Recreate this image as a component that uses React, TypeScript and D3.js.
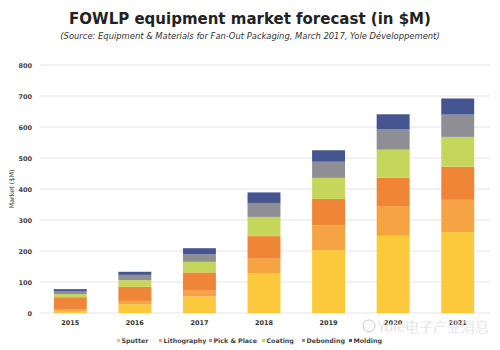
import React from 'react';
import { scaleBand, scaleLinear, stack } from 'd3';

const years = ['2015', '2016', '2017', '2018', '2019', '2020', '2021'];
const keys = ['Sputter', 'Lithography', 'Pick & Place', 'Coating', 'Debonding', 'Molding'];
const sputter = [5, 28, 53, 129, 203, 249, 261];
const lithography = [7, 11, 19, 48, 79, 96, 104];
const pickPlace = [39, 46, 59, 71, 86, 91, 107];
const coating = [10, 21, 34, 62, 68, 91, 96];
const debonding = [10, 17, 25, 45, 52, 65, 72];
const molding = [6, 10, 19, 34, 37, 49, 52];
const yTicks = [0, 100, 200, 300, 400, 500, 600, 700, 800];
const colors: Record<string, string> = {
  Sputter: '#fdc93c',
  Lithography: '#f6a343',
  'Pick & Place': '#ef8537',
  Coating: '#c5d65c',
  Debonding: '#8e8f95',
  Molding: '#45558f',
};

const W = 500;
const H = 350;
const font = '"DejaVu Sans", Verdana, sans-serif';

export default function App() {
  const rows = years.map((y, i) => ({
    year: y,
    Sputter: sputter[i],
    Lithography: lithography[i],
    'Pick & Place': pickPlace[i],
    Coating: coating[i],
    Debonding: debonding[i],
    Molding: molding[i],
  }));
  const layers = stack<any>().keys(keys)(rows);

  const x = scaleBand().domain(years).range([38, 490]).paddingInner(0.49).paddingOuter(0.245);
  const y = scaleLinear().domain([0, 800]).range([313, 65]);

  const legendX = [117, 159, 209, 262, 302, 349];

  return (
    <svg width={W} height={H} style={{ position: 'absolute', left: 0, top: 0, background: '#fff' }} fontFamily={font}>
      <rect width={W} height={H} fill="#fff" />
      <text x={250} y={24} textAnchor="middle" fontSize={15} fontWeight="bold" fill="#222">
        FOWLP equipment market forecast (in $M)
      </text>
      <text x={250} y={39} textAnchor="middle" fontSize={8.4} fontStyle="italic" fill="#333">
        (Source: Equipment &amp; Materials for Fan-Out Packaging, March 2017, Yole Développement)
      </text>

      {yTicks.map((t) => (
        <g key={t}>
          <line x1={40} x2={490} y1={y(t)} y2={y(t)} stroke="#e4e4e4" strokeWidth={1} />
          <text x={32} y={y(t) + 2.5} textAnchor="end" fontSize={6.5} fontWeight="bold" fill="#444">
            {t}
          </text>
        </g>
      ))}

      <text
        transform={`translate(14, ${y(400)}) rotate(-90)`}
        textAnchor="middle"
        fontSize={6.5}
        fill="#444"
      >
        Market ($M)
      </text>

      {layers.map((layer) => (
        <g key={layer.key} fill={colors[layer.key]}>
          {layer.map((d: any) => (
            <rect
              key={d.data.year}
              x={x(d.data.year)}
              width={x.bandwidth()}
              y={y(d[1])}
              height={y(d[0]) - y(d[1])}
            />
          ))}
        </g>
      ))}

      {years.map((yr) => (
        <text key={yr} x={(x(yr) ?? 0) + x.bandwidth() / 2} y={325} textAnchor="middle" fontSize={6.5} fontWeight="bold" fill="#333">
          {yr}
        </text>
      ))}

      {keys.map((k, i) => (
        <g key={k}>
          <rect x={legendX[i]} y={339} width={3} height={3} fill={colors[k]} />
          <text x={legendX[i] + 4.5} y={342.5} fontSize={6.3} fontWeight="bold" fill="#444">
            {k}
          </text>
        </g>
      ))}

      {/* watermark */}
      <g opacity={0.8}>
        <circle cx={369} cy={326} r={6} fill="none" stroke="#bbb" strokeWidth={1} />
        <text x={378} y={332} fontSize={14} fill="#c4c4c4" stroke="#fff" strokeWidth={0.4} fontFamily='"Noto Sans CJK SC", sans-serif'>
          Yole电子产业消息
        </text>
      </g>
    </svg>
  );
}
